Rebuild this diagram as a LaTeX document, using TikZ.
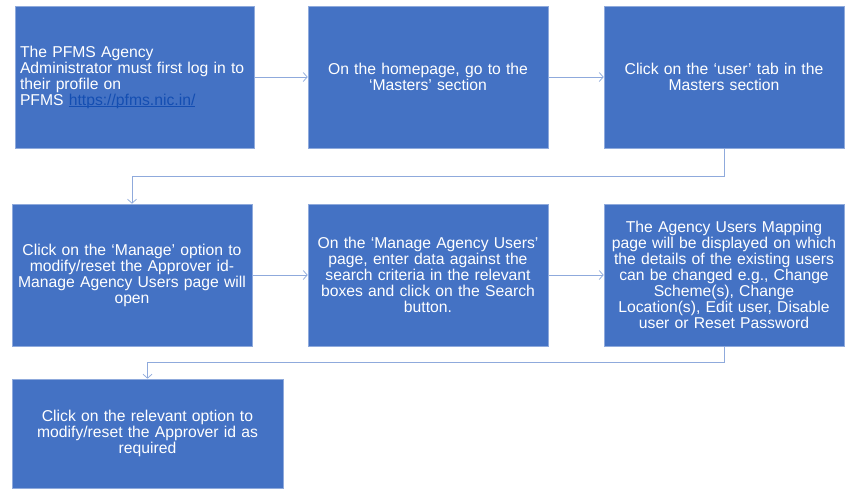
\documentclass[tikz,border=0pt]{standalone}
\usepackage{fontspec}
\setmainfont{Liberation Sans}
\usepackage{tikz}
\usetikzlibrary{arrows.meta}
\definecolor{boxfill}{RGB}{68,114,196}
\definecolor{boxline}{RGB}{143,170,220}
\definecolor{linkblue}{RGB}{20,78,178}
\newcommand\weblink[1]{{\color{linkblue}\setbox0\hbox{#1}\rlap{\rule[-1.7pt]{\wd0}{.8pt}}\box0}}

\begin{document}
\begin{tikzpicture}[x=1pt,y=-1pt,
		stepbox/.style={rectangle, fill=boxfill, draw=boxline, line width=.6pt, text=white, minimum width=240pt, minimum height=142pt, text width=236pt, inner xsep=2pt, align=center, font=\fontsize{15.7}{16}\selectfont},
		link/.style={draw=boxline, line width=.75pt, -{Straight Barb[length=4pt,width=9pt]}}]
		\useasboundingbox (0,0) rectangle (849,488);
		\node[stepbox, minimum width=239pt, text width=229pt, inner xsep=5pt, align=left] (b1) at (134.5,77) {The PFMS Agency\\Administrator must first log in to\\their profile on\\PFMS \weblink{https://pfms.nic.in/}};
		\node[stepbox] (b2) at (428,77) {On the homepage, go to the\\‘Masters’ section};
		\node[stepbox] (b3) at (724,77) {Click on the ‘user’ tab in the\\Masters section};
		\node[stepbox] (b4) at (132,275) {Click on the ‘Manage’ option to\\modify/reset the Approver id-\\Manage Agency Users page will\\open};
		\node[stepbox] (b5) at (428,275) {On the ‘Manage Agency Users’\\page, enter data against the\\search criteria in the relevant\\boxes and click on the Search\\button.};
		\node[stepbox] (b6) at (724,275) {The Agency Users Mapping\\page will be displayed on which\\the details of the existing users\\can be changed e.g., Change\\Scheme(s), Change\\Location(s), Edit user, Disable\\user or Reset Password};
		\node[stepbox, minimum width=271pt, minimum height=109pt, text width=262pt] (b7) at (147.5,433.5) {Click on the relevant option to\\modify/reset the Approver id as\\required};
		\coordinate (t1) at (724,176.5);
		\coordinate (t2) at (724,362.5);
		\draw[link] (b1) -- (b2);
		\draw[link] (b2) -- (b3);
		\draw[link] (b3.south) -- (t1) -| (b4.north);
		\draw[link] (b4) -- (b5);
		\draw[link] (b5) -- (b6);
		\draw[link] (b6.south) -- (t2) -| (b7.north);
	\end{tikzpicture}
\end{document}
